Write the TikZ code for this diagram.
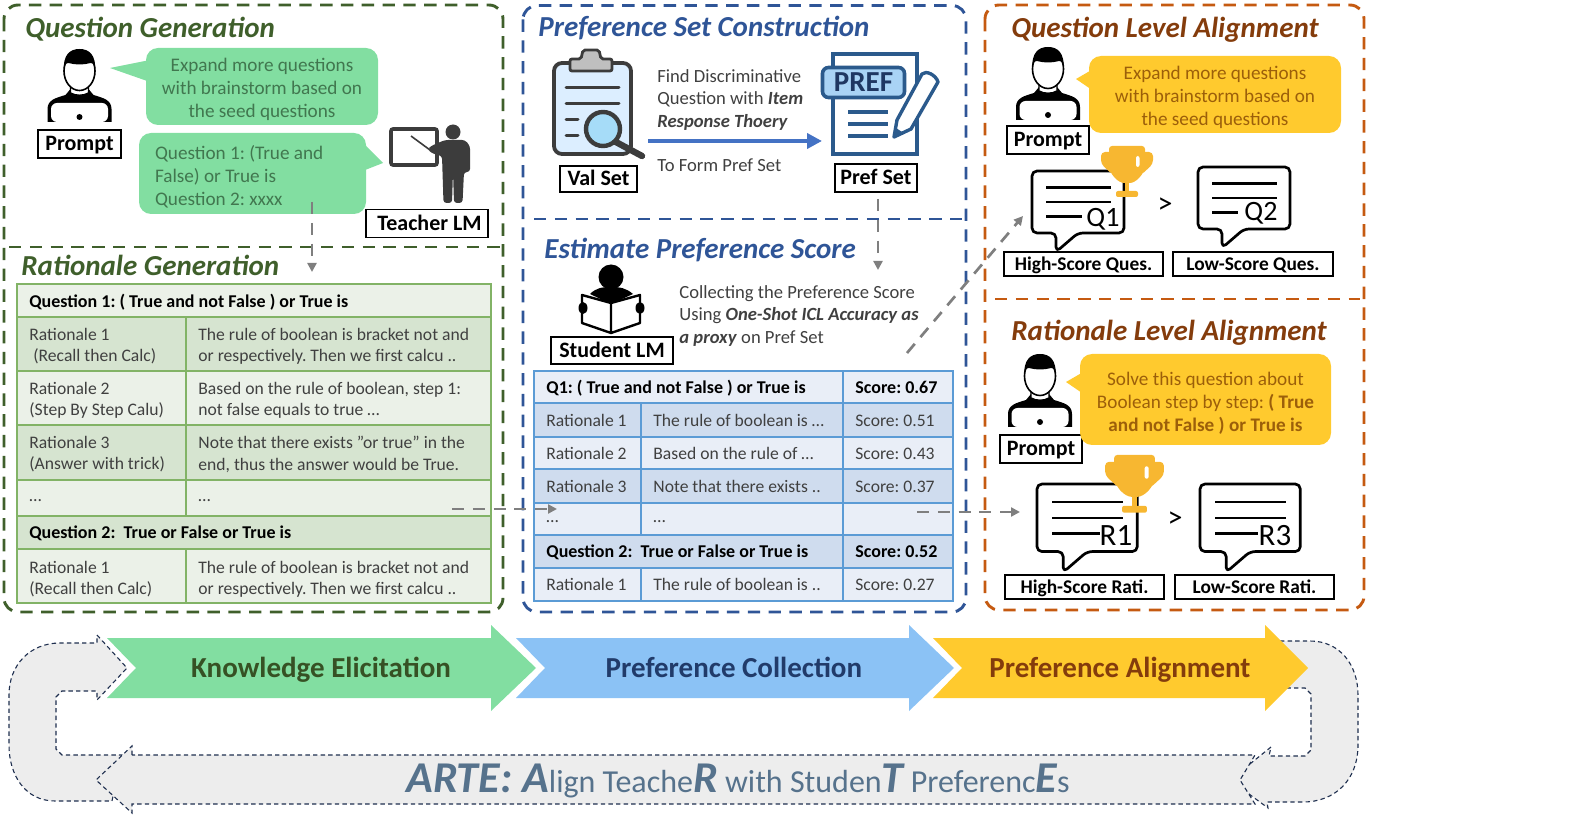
\documentclass[tikz,border=0pt]{standalone}
\usepackage{fontspec}
\setmainfont{Carlito}
\frenchspacing
\usetikzlibrary{arrows.meta, calc, positioning}

\definecolor{framegreen}{HTML}{3F5F2B}
\definecolor{frameblue}{HTML}{2F5597}
\definecolor{frameorange}{HTML}{C55A11}
\definecolor{titleorange}{HTML}{843C0C}
\definecolor{bubblegreen}{HTML}{82DEA1}
\definecolor{bubblegold}{HTML}{FFCA2E}
\definecolor{arrowblue}{HTML}{8BC2F5}
\definecolor{textgreen}{HTML}{41774F}
\definecolor{textgold}{HTML}{9C5F0A}
\definecolor{tablegreen}{HTML}{82B366}
\definecolor{rowgreenlight}{HTML}{EBF1E8}
\definecolor{rowgreendark}{HTML}{D6E4D0}
\definecolor{tableblue}{HTML}{5B9BD5}
\definecolor{rowbluelight}{HTML}{E9EEF7}
\definecolor{rowbluedark}{HTML}{CFDCEE}
\definecolor{trophygold}{HTML}{F7B731}
\definecolor{flowgray}{HTML}{7F7F7F}
\definecolor{loopnavy}{HTML}{1F2F4F}
\definecolor{artetext}{HTML}{56728C}
\definecolor{prefstroke}{HTML}{2B5A8C}
\definecolor{prefarrow}{HTML}{4472C4}
\definecolor{preftagfill}{HTML}{A9D3F5}
\definecolor{boardfill}{HTML}{DCEEFF}
\definecolor{lensfill}{HTML}{A6DCF8}
\definecolor{iconstroke}{HTML}{3C3C3C}

\tikzset{
    x=0.5pt, y=-0.5pt,
    framedash/.style={line width=1.45pt, dash pattern=on 6.2pt off 4.2pt, rounded corners=7pt},
    framesplit/.style={line width=1.45pt, dash pattern=on 6.2pt off 4.2pt},
    paneltitle/.style={anchor=west, inner sep=0, text height=11.7pt, text depth=2.3pt, font=\fontsize{14.5}{16}\selectfont\bfseries\itshape},
    labelbox/.style={draw, fill=white, line width=0.6pt, inner sep=0, minimum height=14pt, text height=8.8pt, text depth=1.8pt, font=\fontsize{11}{13}\selectfont\bfseries},
    scorebox/.style={labelbox, minimum height=12pt, text height=7.8pt, text depth=1.6pt, font=\fontsize{9.7}{12}\selectfont\bfseries},
    speech/.style={rounded corners=6pt, inner sep=0, align=flush center, font=\fontsize{9.6}{11.5}\selectfont, execute at begin node={\rule{0pt}{10pt}}},
    plaintext/.style={anchor=west, inner sep=0, align=left, text=black!75, font=\fontsize{9.3}{11.2}\selectfont},
    celltext/.style={anchor=west, inner sep=0, align=left, text=black!75, font=\fontsize{8.8}{10.6}\selectfont},
    rowtext/.style={anchor=west, inner sep=0, text=black!75, text height=7pt, text depth=1.4pt, font=\fontsize{8.8}{10.6}\selectfont},
    cellbold/.style={anchor=west, inner sep=0, text height=7.2pt, text depth=1.4pt, font=\fontsize{9}{10.6}\selectfont\bfseries},
    flowdash/.style={draw=flowgray, line width=1.35pt, dash pattern=on 6pt off 4.4pt, -{Triangle[length=4.5pt,width=4.5pt]}},
    loopband/.style={draw=loopnavy, fill=black!7, line width=0.55pt, dash pattern=on 2.2pt off 1.6pt},
    stagename/.style={inner sep=0, text height=11.6pt, text depth=2.3pt, font=\fontsize{14.5}{16}\selectfont\bfseries},
    pics/personicon/.style={code={
        \fill (-32,73) -- (-32,60) .. controls (-32,51) and (-24,49) .. (-14,46) -- (-9,40) -- (9,40) -- (14,46) .. controls (24,49) and (32,51) .. (32,60) -- (32,73) -- cycle;
        \fill[white, rounded corners=3pt] (-28.5,73) -- (-28.5,54) -- (28.5,54) -- (28.5,73) -- cycle;
        \draw[fill=white, line width=0.7pt] (-9,36) -- (-9,44) .. controls (-4,47) and (4,47) .. (9,44) -- (9,36);
        \draw[fill=white, line width=0.8pt] (0,22) ellipse (15.5 and 19.5);
        \fill (-15.5,23) .. controls (-17,5) and (-9,0) .. (0,0) .. controls (9,0) and (17,5) .. (15.5,23) .. controls (15,16) and (14,14) .. (11,14) .. controls (4,16) and (-4,16) .. (-11,14) .. controls (-14,14) and (-15,16) .. (-15.5,23) -- cycle;
        \fill (0,68) circle (3);
    }},
    pics/chaticon/.style={code={
        \draw[fill=white, line width=1.35pt, rounded corners=2.5pt, line join=round] (0,0) -- (92,0) -- (92,62) -- (46,62) -- (24,81) -- (24,62) -- (0,62) -- cycle;
        \draw[line width=1.25pt] (14,16.5) -- (79,16.5) (14,31) -- (79,31) (14,45.5) -- (#1,45.5);
    }},
    pics/trophyicon/.style={code={
        \fill[trophygold, rounded corners=2pt] (-26,6) -- (26,6) -- (26,18) -- (14,29) -- (-14,29) -- (-26,18) -- cycle;
        \fill[trophygold, rounded corners=1.5pt] (-18,0) -- (18,0) -- (18,15) .. controls (18,29) and (8,37) .. (0,37) .. controls (-8,37) and (-18,29) .. (-18,15) -- cycle;
        \fill[trophygold] (-2,36) rectangle (2,46);
        \fill[trophygold, rounded corners=1pt] (-11,45) rectangle (11,51);
        \fill[white, rounded corners=1pt] (9,10) rectangle (12.5,21);
    }},
}

\begin{document}
\begin{tikzpicture}
    \useasboundingbox (0,0) rectangle (1592,818);

    % return loop behind the stages
    \draw[loopband] (97,635) -- (127,668) -- (97,700) -- (97,691) -- (62,691) -- (56,697) -- (56,749) -- (62,755) -- (122,755) -- (112,801) -- (55,801) .. controls (25,801) and (9,775) .. (9,745) -- (9,695) .. controls (9,665) and (30,643) .. (60,643) -- (97,643) -- cycle;
    \draw[loopband] (1280,641) -- (1310,641) .. controls (1340,641) and (1358,665) .. (1358,695) -- (1358,745) .. controls (1358,780) and (1335,802) .. (1303,802) -- (1267,802) -- (1268,808) -- (1230,780) -- (1271,747) -- (1269,756) -- (1305,756) -- (1311,750) -- (1311,694) -- (1305,688) -- (1280,688) -- cycle;
    \draw[loopband] (132,755) -- (132,746) -- (96,780) -- (132,813) -- (132,804) -- (1255,804) -- (1240,780) -- (1255,755) -- cycle;

    % three stages
    \fill[bubblegreen] (107,638) -- (491,638) -- (491,625) -- (536,668) -- (491,711) -- (491,698) -- (107,698) -- (136,668) -- cycle;
    \fill[arrowblue] (516,638) -- (909,638) -- (909,625) -- (954,668) -- (909,711) -- (909,698) -- (516,698) -- (545,668) -- cycle;
    \fill[bubblegold] (933,638) -- (1265,638) -- (1265,625) -- (1308,668) -- (1265,711) -- (1265,698) -- (933,698) -- (962,668) -- cycle;
    \node[stagename, text=framegreen!85!black] (elicit) at (321,668) {Knowledge Elicitation};
    \node[stagename, text=frameblue!70!black] (collect) at (734,668) {Preference Collection};
    \node[stagename, text=titleorange] (align) at (1120,668) {Preference Alignment};
    \node[inner sep=0, text=artetext, font=\fontsize{16}{18}\selectfont] (arte) at (738,781) {{\fontsize{22}{22}\selectfont\bfseries\itshape ARTE: A}lign Teache{\fontsize{22}{22}\selectfont\bfseries\itshape R} with Studen{\fontsize{22}{22}\selectfont\bfseries\itshape T} Preferenc{\fontsize{22}{22}\selectfont\bfseries\itshape E}s};

    % dashed panels
    \draw[framedash, draw=framegreen] (4,5) rectangle (503,612);
    \draw[framesplit, draw=framegreen] (9,247) -- (500,247);
    \draw[framedash, draw=frameblue] (523,5.5) rectangle (966,612);
    \draw[framesplit, draw=frameblue] (534,219) -- (962,219);
    \draw[framedash, draw=frameorange] (985,5) rectangle (1364,610);
    \draw[framesplit, draw=frameorange] (995,299) -- (1360,299);

    % question generation
    \node[paneltitle, text=framegreen] (qgtitle) at (25,28) {Question Generation};
    \pic at (79.5,49) {personicon};
    \node[labelbox, minimum width=41.5pt] (qgprompt) at (79.5,144) {Prompt};
    \fill[bubblegreen] (150,60) -- (110,68) -- (150,82) -- cycle;
    \node[speech, fill=bubblegreen, text=textgreen, text width=116pt, minimum height=38.5pt] (qgask) at (262,86.5) {Expand more questions\\with brainstorm based on\\the seed questions};
    \fill[bubblegreen] (360,140) -- (383,163) -- (360,172) -- cycle;
    \node[speech, fill=bubblegreen, text=textgreen, align=flush left, minimum width=113.5pt, minimum height=40.5pt, text width=97.5pt] (qganswer) at (252.5,173.5) {Question 1: (True and\\False) or True is\\Question 2: xxxx};
    % teacher
    \draw[iconstroke, fill=white, line width=1.8pt, rounded corners=1pt] (391,129) rectangle (437,165);
    \draw[iconstroke, line width=0.8pt] (411,136) -- (430,150);
    \fill[iconstroke] (453,132) circle (7.5);
    \fill[iconstroke, rounded corners=1.5pt] (428,149) -- (431,146) -- (445,140) -- (465,140) -- (470,146) -- (470,172) -- (464,172) -- (462.5,203) -- (454,203) -- (453,172) -- (452,203) -- (443.5,203) -- (442,156) -- (431,153) -- cycle;
    \node[labelbox, minimum width=61pt] (teacher) at (427,223.5) {\ Teacher LM};

    % rationale generation
    \node[paneltitle, text=framegreen] (rgtitle) at (21,266) {Rationale Generation};
    \foreach \rowtop/\rowbot/\rowfill in {284/317/rowgreenlight, 317/371/rowgreendark, 371/425/rowgreenlight, 425/480/rowgreendark, 480/516/rowgreenlight, 516/549/rowgreendark, 549/603/rowgreenlight}
        \filldraw[fill=\rowfill, draw=tablegreen, line width=0.7pt] (17,\rowtop) rectangle (491,\rowbot);
    \draw[tablegreen, line width=0.7pt] (186,317) -- (186,516) (186,549) -- (186,603);
    \node[cellbold] (rgqone) at (29,301.5) {Question 1: ( True and not False ) or True is};
    \node[celltext] (rganame) at (29,346) {Rationale 1\\\ (Recall then Calc)};
    \node[celltext] (rgatext) at (198,346) {The rule of boolean is bracket not and\\or respectively. Then we first calcu ..};
    \node[celltext] (rgbname) at (29,400) {Rationale 2\\(Step By Step Calu)};
    \node[celltext] (rgbtext) at (198,400) {Based on the rule of boolean, step 1:\\not false equals to true …};
    \node[celltext] (rgcname) at (29,454.5) {Rationale 3\\(Answer with trick)};
    \node[celltext] (rgctext) at (198,454.5) {Note that there exists ”or true” in the\\end, thus the answer would be True.};
    \node[rowtext] (rgdname) at (29,496) {…};
    \node[rowtext] (rgdtext) at (198,496) {…};
    \node[cellbold] (rgqtwo) at (29,533) {Question 2:\ \ True or False or True is};
    \node[celltext] (rgename) at (29,579) {Rationale 1\\(Recall then Calc)};
    \node[celltext] (rgetext) at (198,579) {The rule of boolean is bracket not and\\or respectively. Then we first calcu ..};

    % preference set construction
    \node[paneltitle, text=frameblue] (pstitle) at (538,27) {Preference Set Construction};
    % clipboard
    \draw[iconstroke, fill=boardfill, line width=1.9pt, rounded corners=4pt] (554,63) rectangle (631,154);
    \draw[iconstroke, fill=black!25, line width=1.4pt, rounded corners=1pt] (570,59) -- (581,59) -- (583,50) -- (599,50) -- (601,59) -- (612,59) -- (612,71) -- (570,71) -- cycle;
    \draw[iconstroke, line width=1.5pt, line cap=round] (566,88) -- (619,88) (566,104) -- (619,104) (566,120) -- (578,120) (566,136) -- (578,136);
    \draw[iconstroke, line width=3.2pt, line cap=round] (614,141) -- (642,156);
    \draw[iconstroke, fill=lensfill, line width=2.2pt] (603,129) circle (17);
    \node[labelbox, minimum width=38.5pt, minimum height=13pt] (valset) at (598.5,179) {Val Set};
    \node[plaintext] (findtext) at (657,100) {Find Discriminative\\Question with \textbf{\textit{Item}}\\\textbf{\textit{Response Thoery}}};
    \coordinate (valout) at (648,141);
    \coordinate (prefin) at (822,141);
    \draw[prefarrow, line width=2.4pt, -{Triangle[length=7.5pt,width=7.5pt]}] (valout) -- (prefin);
    \node[plaintext] (formtext) at (657,165) {To Form Pref Set};
    % pref document
    \draw[prefstroke, fill=white, line width=1.8pt] (833,54) rectangle (917,154);
    \draw[prefstroke, line width=1.6pt] (848,112) -- (888,112) (848,124) -- (888,124) (848,136) -- (888,136);
    \node[draw=prefstroke, fill=preftagfill, line width=1.8pt, rounded corners=3pt, minimum width=41pt, minimum height=15pt, inner sep=0, font=\fontsize{14.5}{15}\selectfont\bfseries, text=frameblue!65!black] (preftag) at (863.5,82.5) {PREF};
    \draw[prefstroke, fill=white, line width=1.7pt, line join=round] (894,137) -- (897,120) -- (922,74) .. controls (926,70) and (936,75) .. (938,82) -- (911,129) -- cycle;
    \fill[prefstroke] (894,137) -- (896,128) -- (902,132) -- cycle;
    \node[labelbox, minimum width=41pt] (prefset) at (876,178) {Pref Set};
    \coordinate (prefout) at (878,199);
    \coordinate (scorein) at (878,270);
    \draw[flowdash] (prefout) -- (scorein);

    % estimate preference score
    \node[paneltitle, text=frameblue] (estitle) at (544,249) {Estimate Preference Score};
    \fill (611,277) circle (12.5);
    \fill (590,294) .. controls (596,288) and (602,287) .. (611,287) .. controls (620,287) and (626,288) .. (633,294) -- (611,304) -- cycle;
    \draw[fill=white, line width=1.2pt, line join=round] (582,295) -- (611,303) -- (640,295) -- (640,323) -- (611,333) -- (582,323) -- cycle (611,303) -- (611,333);
    \fill (583,308) ellipse (4.5 and 6) (640,308) ellipse (4.5 and 6);
    \node[labelbox, minimum width=61pt, minimum height=13.5pt] (student) at (612,350.5) {Student LM};
    \node[plaintext] (collecttext) at (679,316) {Collecting the Preference Score\\Using \textbf{\textit{One-Shot ICL Accuracy as}}\\\textbf{\textit{a proxy}} on Pref Set};
    \foreach \rowtop/\rowbot/\rowfill in {371/403/rowbluelight, 403/437/rowbluedark, 437/469/rowbluelight, 469/503/rowbluedark, 503/535/rowbluelight, 535/568/rowbluedark, 568/601/rowbluelight}
        \filldraw[fill=\rowfill, draw=tableblue, line width=0.7pt] (534,\rowtop) rectangle (953,\rowbot);
    \draw[tableblue, line width=0.7pt] (843,371) -- (843,601) (641,403) -- (641,535) (641,568) -- (641,601);
    \node[cellbold] (esqone) at (546,387.5) {Q1: ( True and not False ) or True is};
    \node[cellbold] (esqonescore) at (855,387.5) {Score: 0.67};
    \node[rowtext] (esaname) at (546,420.5) {Rationale 1};
    \node[rowtext] (esatext) at (653,420.5) {The rule of boolean is …};
    \node[rowtext] (esascore) at (855,420.5) {Score: 0.51};
    \node[rowtext] (esbname) at (546,453.5) {Rationale 2};
    \node[rowtext] (esbtext) at (653,453.5) {Based on the rule of …};
    \node[rowtext] (esbscore) at (855,453.5) {Score: 0.43};
    \node[rowtext] (escname) at (546,486.5) {Rationale 3};
    \node[rowtext] (esctext) at (653,486.5) {Note that there exists ..};
    \node[rowtext] (escscore) at (855,486.5) {Score: 0.37};
    \node[rowtext] (esdname) at (546,517) {…};
    \node[rowtext] (esdtext) at (653,517) {…};
    \node[cellbold] (esqtwo) at (546,552) {Question 2:\ \ True or False or True is};
    \node[cellbold] (esqtwoscore) at (855,552) {Score: 0.52};
    \node[rowtext] (esename) at (546,585) {Rationale 1};
    \node[rowtext] (esetext) at (653,585) {The rule of boolean is ..};
    \node[rowtext] (esescore) at (855,585) {Score: 0.27};

    % question level alignment
    \node[paneltitle, text=titleorange] (qatitle) at (1011,28) {Question Level Alignment};
    \pic at (1048,47) {personicon};
    \node[labelbox, minimum width=41pt] (qaprompt) at (1048,140) {Prompt};
    \fill[bubblegold] (1095,68) -- (1076,79) -- (1095,92) -- cycle;
    \node[speech, fill=bubblegold, text=textgold, text width=126pt, minimum height=38.5pt] (qaask) at (1215,94.5) {Expand more questions\\with brainstorm based on\\the seed questions};
    \pic at (1032,171) {chaticon={50}};
    \node[inner sep=0, font=\fontsize{14}{15}\selectfont] (qone) at (1103,219) {Q1};
    \pic at (1127,146) {trophyicon};
    \node[inner sep=0, font=\fontsize{15}{16}\selectfont] (qgreater) at (1165,206) {>};
    \pic at (1198,167) {chaticon={40}};
    \node[inner sep=0, font=\fontsize{14}{15}\selectfont] (qtwo) at (1261,213) {Q2};
    \node[scorebox, minimum width=79.5pt] (qhigh) at (1083.5,264) {High-Score Ques.};
    \node[scorebox, minimum width=80pt] (qlow) at (1253,264) {Low-Score Ques.};

    % rationale level alignment
    \node[paneltitle, text=titleorange] (ratitle) at (1011,331) {Rationale Level Alignment};
    \pic at (1040,354) {personicon};
    \node[labelbox, minimum width=41pt] (raprompt) at (1041,449) {Prompt};
    \fill[bubblegold] (1085,371) -- (1066,382) -- (1085,395) -- cycle;
    \node[speech, fill=bubblegold, text=textgold, text width=125.5pt, minimum height=45.5pt] (raask) at (1205.5,399.5) {Solve this question about\\Boolean step by step: \textbf{( True}\\\textbf{and not False ) or True is}};
    \pic[scale=1.09] at (1037,484) {chaticon={58}};
    \node[inner sep=0, font=\fontsize{15.5}{16}\selectfont] (rone) at (1116,536) {R1};
    \pic[scale=1.13] at (1134.5,455) {trophyicon};
    \node[inner sep=0, font=\fontsize{15}{16}\selectfont] (rgreater) at (1175,520) {>};
    \pic[scale=1.09] at (1200,484) {chaticon={53}};
    \node[inner sep=0, font=\fontsize{15.5}{16}\selectfont] (rthree) at (1275,536) {R3};
    \node[scorebox, minimum width=79.5pt] (rhigh) at (1084.5,587) {High-Score Rati.};
    \node[scorebox, minimum width=79.5pt] (rlow) at (1254.5,587) {Low-Score Rati.};

    % dashed flows between the panels
    \coordinate (answerout) at (312,202);
    \coordinate (rationalein) at (312,272);
    \coordinate (tableout) at (452,509);
    \coordinate (tablein) at (557,509);
    \coordinate (scoreout) at (907,353);
    \coordinate (quesin) at (1023,216);
    \coordinate (rowout) at (917,512);
    \coordinate (ratiin) at (1020,512);
    \draw[flowdash] (answerout) -- (rationalein);
    \draw[flowdash] (tableout) -- (tablein);
    \draw[flowdash] (scoreout) -- (quesin);
    \draw[flowdash] (rowout) -- (ratiin);
\end{tikzpicture}
\end{document}
